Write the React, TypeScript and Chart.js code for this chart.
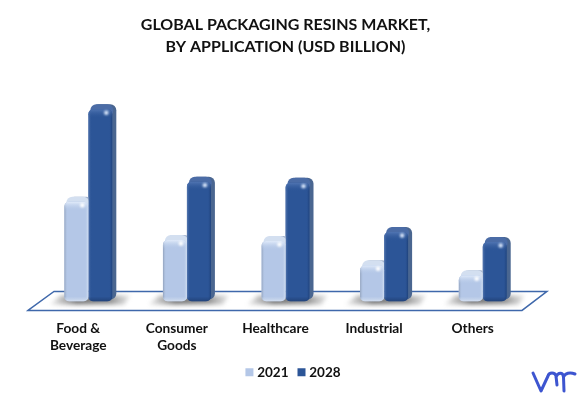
import React, { useEffect, useRef } from "react";
import { Chart, registerables } from "chart.js";

Chart.register(...registerables);

const titleLines = ["GLOBAL PACKAGING RESINS MARKET,", "BY APPLICATION (USD BILLION)"];
const categories = [["Food &", "Beverage"], ["Consumer", "Goods"], "Healthcare", "Industrial", "Others"];
const values2021 = [9.9, 6.1, 6.0, 3.6, 2.6];
const values2028 = [19.1, 11.9, 11.8, 6.9, 5.9];
const FONT = "Lato, Carlito, sans-serif";

function rr(ctx: CanvasRenderingContext2D, x: number, y: number, w: number, h: number, r: number) {
  ctx.beginPath();
  ctx.roundRect(x, y, w, h, r);
}

const scene = {
  id: "scene",
  afterLayout(chart: any) {
    if (chart.legend) {
      chart.legend.left += 9;
      chart.legend.right += 9;
    }
    // the two-line tick labels overlap the legend's padding: do not clip them
    chart.scales.x.bottom = chart.height;
  },
  beforeDatasetsDraw(chart: any) {
    const { ctx, chartArea: a } = chart;
    const base = a.bottom;
    // floor
    ctx.save();
    ctx.strokeStyle = "#3f68ab";
    ctx.lineWidth = 1.4;
    ctx.beginPath();
    ctx.moveTo(a.left - 11, base + 9);
    ctx.lineTo(a.left + 15, base - 10);
    ctx.lineTo(a.right + 15, base - 10);
    ctx.lineTo(a.right - 10, base + 9);
    ctx.closePath();
    ctx.stroke();
    // shadows
    const m0 = chart.getDatasetMeta(0).data;
    const m1 = chart.getDatasetMeta(1).data;
    ctx.filter = "blur(2px)";
    m0.forEach((b: any, i: number) => {
      const l = b.x - b.width / 2;
      const r = m1[i].x + m1[i].width / 2;
      const g = ctx.createLinearGradient(l - 10, 0, r + 17, 0);
      g.addColorStop(0, "rgba(120,120,120,0.25)");
      g.addColorStop(0.3, "rgba(95,95,95,0.85)");
      g.addColorStop(0.75, "rgba(120,120,120,0.8)");
      g.addColorStop(1, "rgba(170,170,170,0.35)");
      ctx.fillStyle = g;
      ctx.beginPath();
      ctx.moveTo(l - 14, base + 3);
      ctx.lineTo(l - 4, base - 6);
      ctx.lineTo(r + 18, base - 6);
      ctx.lineTo(r + 12, base + 3);
      ctx.closePath();
      ctx.fill();
    });
    ctx.restore();
  },
  beforeDatasetDraw(chart: any, args: any) {
    const { ctx } = chart;
    const dark = args.index === 1;
    args.meta.data.forEach((b: any) => {
      const l = b.x - b.width / 2;
      const h = b.base - b.y;
      ctx.save();
      if (!dark) {
        // keep the lighter bar's depth behind the darker bar
        ctx.beginPath();
        ctx.rect(l - 2, 0, b.width + 2, chart.height);
        ctx.clip();
      }
      ctx.fillStyle = dark ? "#4a6690" : "#a3b3cd";
      rr(ctx, l + 4, b.y - 5, b.width, h + 3, 6);
      ctx.fill();
      ctx.fillStyle = dark ? "#4b6ca6" : "#d3dff0";
      rr(ctx, l + 2, b.y - 5, b.width - 1, 12, 6);
      ctx.fill();
      ctx.restore();
    });
  },
  afterDatasetDraw(chart: any, args: any) {
    const { ctx } = chart;
    const dark = args.index === 1;
    ctx.save();
    args.meta.data.forEach((b: any) => {
      const l = b.x - b.width / 2;
      const h = b.base - b.y;
      ctx.save();
      rr(ctx, l, b.y, b.width, h, 5);
      ctx.clip();
      const g = ctx.createLinearGradient(l, 0, l + b.width, 0);
      if (dark) {
        g.addColorStop(0, "rgba(110,140,190,0.7)");
        g.addColorStop(0.14, "rgba(44,85,151,0)");
        g.addColorStop(0.86, "rgba(44,85,151,0)");
        g.addColorStop(1, "rgba(20,50,100,0.6)");
      } else {
        g.addColorStop(0, "rgba(140,155,180,0.9)");
        g.addColorStop(0.14, "rgba(180,200,230,0)");
        g.addColorStop(0.86, "rgba(180,200,230,0)");
        g.addColorStop(1, "rgba(215,228,246,0.9)");
      }
      ctx.fillStyle = g;
      ctx.fillRect(l, b.y, b.width, h);
      const top = ctx.createLinearGradient(0, b.y, 0, b.y + 9);
      top.addColorStop(0, dark ? "rgba(90,125,185,0.8)" : "rgba(225,235,250,1)");
      top.addColorStop(1, dark ? "rgba(44,85,151,0)" : "rgba(180,200,230,0)");
      ctx.fillStyle = top;
      ctx.fillRect(l, b.y, b.width, 9);
      const bot = ctx.createLinearGradient(0, b.base - 5, 0, b.base);
      bot.addColorStop(0, dark ? "rgba(30,60,110,0)" : "rgba(200,215,235,0)");
      bot.addColorStop(1, dark ? "rgba(30,60,110,0.7)" : "rgba(215,225,240,0.95)");
      ctx.fillStyle = bot;
      ctx.fillRect(l, b.base - 5, b.width, 5);
      ctx.restore();
      // specular spot
      ctx.filter = "blur(1px)";
      ctx.fillStyle = dark ? "#dbe8fb" : "#ffffff";
      ctx.beginPath();
      ctx.ellipse(l + b.width - 6, b.y + 3.5, 2.2, 2.2, 0, 0, Math.PI * 2);
      ctx.fill();
      ctx.filter = "none";
    });
    ctx.restore();
  },
  afterDraw(chart: any) {
    // brand mark, bottom right
    const { ctx } = chart;
    ctx.save();
    ctx.strokeStyle = "#3d55d0";
    ctx.lineWidth = 3;
    ctx.lineCap = "round";
    ctx.lineJoin = "round";
    ctx.beginPath();
    ctx.moveTo(533, 373);
    ctx.lineTo(541, 391);
    ctx.lineTo(548, 376);
    ctx.bezierCurveTo(549, 372, 555, 372, 556, 376);
    ctx.lineTo(557, 385);
    ctx.moveTo(556, 377);
    ctx.bezierCurveTo(558, 372, 563, 372, 563.5, 377);
    ctx.lineTo(564, 391);
    ctx.moveTo(563.5, 377);
    ctx.bezierCurveTo(565, 373, 570, 372, 575, 374);
    ctx.stroke();
    ctx.restore();
  },
};

export default function App() {
  const ref = useRef<HTMLCanvasElement>(null);
  useEffect(() => {
    const chart = new Chart(ref.current!, {
      type: "bar",
      data: {
        labels: categories as any,
        datasets: [
          { label: "2021", data: values2021, backgroundColor: "#b4c7e7" },
          { label: "2028", data: values2028, backgroundColor: "#2c5597" },
        ],
      },
      options: {
        responsive: false,
        animation: false,
        layout: { padding: { left: 39, right: 47, top: 4, bottom: 5 } },
        datasets: { bar: { barPercentage: 1, categoryPercentage: 0.487, borderRadius: 5, borderSkipped: false } },
        scales: {
          x: {
            grid: { display: false },
            border: { display: false },
            afterFit: (s: any) => {
              s.height -= 11;
            },
            ticks: {
              color: "#111",
              font: { family: FONT, size: 13.7, weight: "bold", lineHeight: 1.28 },
              maxRotation: 0,
              autoSkip: false,
              padding: 10,
              labelOffset: -10,
            },
          },
          y: { display: false, min: 0, max: 22 },
        },
        plugins: {
          title: {
            display: true,
            text: titleLines,
            color: "#111",
            font: { family: FONT, size: 16, weight: "bold", lineHeight: 1.375 },
            padding: { top: 10, bottom: 22 },
          },
          legend: {
            position: "bottom",
            labels: {
              boxWidth: 2,
              boxHeight: 2,
              color: "#111",
              padding: 12,
              font: { family: FONT, size: 13.5, weight: "bold" },
              generateLabels: (chart: any) =>
                chart.data.datasets.map((d: any, i: number) => ({
                  text: d.label,
                  datasetIndex: i,
                  fillStyle: d.backgroundColor,
                  strokeStyle: d.backgroundColor,
                  lineWidth: 6,
                  fontColor: "#111",
                })),
            },
          },
          tooltip: { enabled: false },
        },
      },
      plugins: [scene],
    } as any);
    return () => chart.destroy();
  }, []);
  return (
    <div style={{ position: "absolute", left: 0, top: 0, width: 579, height: 394 }}>
      <canvas ref={ref} width={579} height={394} style={{ display: "block" }} />
    </div>
  );
}
